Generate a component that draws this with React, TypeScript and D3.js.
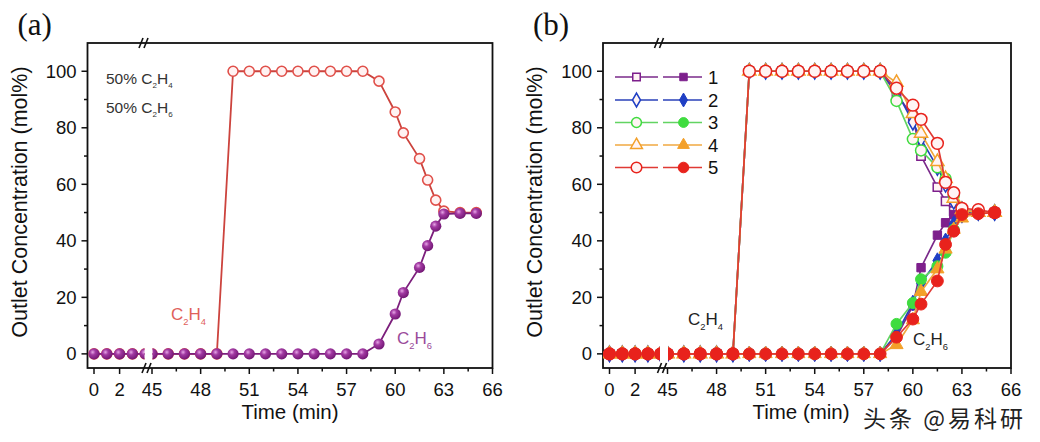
import * as d3 from "d3";

const W = 1040;
const H = 442;

// sampling times before breakthrough (min); the axis is broken between 4 and 45
const earlyTimes = [0, 1, 2, 3, 4, 45, 46, 47, 48, 49, 50, 51, 52, 53, 54, 55, 56, 57, 58];
const earlyC2H4 = [0, 0, 0, 0, 0, 0, 0, 0, 0, 0, 100, 100, 100, 100, 100, 100, 100, 100, 100];
const earlyC2H6 = [0, 0, 0, 0, 0, 0, 0, 0, 0, 0, 0, 0, 0, 0, 0, 0, 0, 0, 0];

// sampling times during breakthrough (min)
const tailTimes = [59, 60, 60.5, 61.5, 62, 62.5, 63, 64, 65];

// (a) single run, 50/50 C2H4/C2H6
const aTailC2H4 = [96.5, 85.6, 78.2, 69.1, 61.5, 54.4, 50.5, 50, 50];
const aTailC2H6 = [3.5, 14.1, 21.7, 30.6, 38.3, 45.2, 49.5, 49.7, 49.7];

// (b) five repeated cycles
const cycleNames = ["1", "2", "3", "4", "5"];
const cycleColors = ["#7d1f8c", "#1f3fc4", "#3fdc3f", "#f3a02a", "#e8231c"];
const cycleLineColors = ["#7a2a8a", "#2a40b8", "#62d462", "#f0a840", "#e03a34"];
const cycleTailC2H4 = [
  [92, 84, 70, 59, 54, 50.5, 50, 50, 50],
  [93, 82, 76, 66, 60, 54, 51, 50, 50],
  [89.5, 76, 72, 66, 62, 56, 51, 50, 50],
  [96, 85, 78, 68, 62, 55, 51, 50, 50],
  [94, 88, 83, 74.5, 60.7, 57, 51.5, 51, 50],
];
const cycleTailC2H6 = [
  [6, 17, 30.5, 42, 46.4, 49.3, 49.5, 50, 50],
  [7, 18, 25, 33, 40, 46, 49, 50, 50],
  [10.6, 18, 26.4, 31, 35.8, 44, 49, 50, 50],
  [3.2, 12, 22, 30, 37, 44, 48, 50, 50],
  [5.9, 12.3, 17.6, 25.8, 38.7, 43.4, 49.3, 49.6, 50],
];

const yMajor = [0, 20, 40, 60, 80, 100];
const yMinor = [10, 30, 50, 70, 90];
const xMajorLeft = [0, 2];
const xMajorRight = [45, 48, 51, 54, 57, 60, 63, 66];
const xMinorRight = [46.5, 49.5, 52.5, 55.5, 58.5, 61.5, 64.5];

const SANS = "Arial, 'Liberation Sans', Helvetica, sans-serif";
const SERIF = "'Times New Roman', 'Liberation Serif', serif";

type Pt = { t: number; v: number };

function join(times: number[], vals: number[]): Pt[] {
  return times.map((t, i) => ({ t, v: vals[i] }));
}

const TOP = 43;
const BOTTOM = 368;

function makeScales(left: number, right: number) {
  const xl = d3.scaleLinear().domain([0, 4]).range([left + 6.5, left + 6.5 + 4 * 12.8]);
  const xr = d3.scaleLinear().domain([45, 66]).range([left + 64.5, right]);
  const x = (t: number) => (t < 20 ? xl(t) : xr(t));
  const y = d3.scaleLinear().domain([-5, 110]).range([BOTTOM, TOP]);
  return { x, y };
}

function Chem({ x, y, n, fill, size }: { x: number; y: number; n: string; fill: string; size: number }) {
  const s = size * 0.55;
  const d = size * 0.3;
  return (
    <text x={x} y={y} fill={fill} fontSize={size} fontFamily={SANS}>
      C<tspan fontSize={s} dy={d}>2</tspan>
      <tspan dy={-d}>H</tspan>
      <tspan fontSize={s} dy={d}>{n}</tspan>
    </text>
  );
}

function Frame({ id, left, right, label, titleX }: { id: string; left: number; right: number; label: string; titleX: number }) {
  const { x, y } = makeScales(left, right);
  const brk = left + 59;
  const slash = (cx: number, cy: number) => (
    <g stroke="#111" strokeWidth={1.6}>
      <line x1={cx - 4.5} y1={cy + 5} x2={cx - 0.5} y2={cy - 5} />
      <line x1={cx + 0.5} y1={cy + 5} x2={cx + 4.5} y2={cy - 5} />
    </g>
  );
  return (
    <g>
      <text x={left - 70} y={35} fontSize={31} fontFamily={SERIF} fill="#111">
        {label}
      </text>
      <rect x={left} y={TOP} width={right - left} height={BOTTOM - TOP} fill="none" stroke="#111" strokeWidth={1.8} />
      {yMajor.map((v) => (
        <g key={`ym${v}`}>
          <line x1={left - 6} x2={left} y1={y(v)} y2={y(v)} stroke="#111" strokeWidth={1.5} />
          <text x={left - 11} y={y(v) + 6.5} textAnchor="end" fontSize={18.5} fontFamily={SANS} fill="#111">
            {v}
          </text>
        </g>
      ))}
      {yMinor.map((v) => (
        <line key={`yn${v}`} x1={left - 3.5} x2={left} y1={y(v)} y2={y(v)} stroke="#111" strokeWidth={1.5} />
      ))}
      {[...xMajorLeft, ...xMajorRight].map((t) => (
        <g key={`xm${t}`}>
          <line x1={x(t)} x2={x(t)} y1={BOTTOM} y2={BOTTOM + 6} stroke="#111" strokeWidth={1.5} />
          <text x={x(t)} y={396} textAnchor="middle" fontSize={18.5} fontFamily={SANS} fill="#111">
            {t}
          </text>
        </g>
      ))}
      {xMinorRight.map((t) => (
        <line key={`xn${t}`} x1={x(t)} x2={x(t)} y1={BOTTOM} y2={BOTTOM + 3.5} stroke="#111" strokeWidth={1.5} />
      ))}
      {slash(brk - 3, TOP)}
      {slash(brk, BOTTOM)}
      <text x={titleX} y={419} textAnchor="middle" fontSize={20.5} fontFamily={SANS} fill="#111">
        Time (min)
      </text>
      <text
        transform={`translate(${left - 61},${202}) rotate(-90)`}
        textAnchor="middle"
        fontSize={21.5}
        fontFamily={SANS}
        fill="#111"
      >
        Outlet Concentration (mol%)
      </text>
      <clipPath id={`clip-${id}`}>
        <rect x={left} y={TOP} width={57} height={BOTTOM - TOP} />
        <rect x={left + 65} y={TOP} width={right - left - 65} height={BOTTOM - TOP} />
      </clipPath>
    </g>
  );
}

function PanelA() {
  const left = 87.5;
  const right = 492.5;
  const { x, y } = makeScales(left, right);
  const line = d3
    .line<Pt>()
    .x((d) => x(d.t))
    .y((d) => y(d.v));
  const c2h4 = join([...earlyTimes, ...tailTimes], [...earlyC2H4, ...aTailC2H4]);
  const c2h6 = join([...earlyTimes, ...tailTimes], [...earlyC2H6, ...aTailC2H6]);
  return (
    <g>
      <Frame id="a" left={left} right={right} label="(a)" titleX={290} />
      <g clipPath="url(#clip-a)">
        <path d={line(c2h4) ?? ""} fill="none" stroke="#cc433d" strokeWidth={1.8} />
        {c2h4.map((d, i) => (
          <circle key={i} cx={x(d.t)} cy={y(d.v)} r={5} fill="#fff2f2" stroke="#e0504a" strokeWidth={1.6} />
        ))}
        <path d={line(c2h6) ?? ""} fill="none" stroke="#7c1f7c" strokeWidth={1.8} />
        {c2h6.map((d, i) => (
          <circle key={i} cx={x(d.t)} cy={y(d.v)} r={5.6} fill="url(#ball)" />
        ))}
      </g>
      <text x={106} y={84} fontSize={15.5} fontFamily={SANS} fill="#333">
        50% C<tspan fontSize={8} dy={4}>2</tspan>
        <tspan dy={-4}>H</tspan>
        <tspan fontSize={8} dy={4}>4</tspan>
      </text>
      <text x={106} y={113} fontSize={15.5} fontFamily={SANS} fill="#333">
        50% C<tspan fontSize={8} dy={4}>2</tspan>
        <tspan dy={-4}>H</tspan>
        <tspan fontSize={8} dy={4}>6</tspan>
      </text>
      <Chem x={171} y={320} n="4" fill="#e0605a" size={17} />
      <Chem x={397} y={344} n="6" fill="#9a4a9a" size={17} />
    </g>
  );
}

const symbols = [d3.symbolSquare, d3.symbolDiamond, d3.symbolCircle, d3.symbolTriangle, d3.symbolCircle];
const symbolSizes = [70, 70, 95, 75, 110];

function PanelB() {
  const left = 603;
  const right = 1011;
  const { x, y } = makeScales(left, right);
  const line = d3
    .line<Pt>()
    .x((d) => x(d.t))
    .y((d) => y(d.v));
  const times = [...earlyTimes, ...tailTimes];
  const legendRows = [77, 100, 122.5, 145, 167.5];
  return (
    <g>
      <Frame id="b" left={left} right={right} label="(b)" titleX={801} />
      <g clipPath="url(#clip-b)">
        {cycleNames.map((name, k) => {
          const sym = d3.symbol().type(symbols[k]).size(symbolSizes[k]);
          const open = join(times, [...earlyC2H4, ...cycleTailC2H4[k]]);
          const full = join(times, [...earlyC2H6, ...cycleTailC2H6[k]]);
          return (
            <g key={name} filter={k === 4 ? "url(#soft)" : undefined}>
              <path d={line(open) ?? ""} fill="none" stroke={cycleLineColors[k]} strokeWidth={1.7} />
              {open.map((d, i) => (
                <path
                  key={i}
                  d={sym() ?? ""}
                  transform={`translate(${x(d.t)},${y(d.v)})`}
                  fill="#fff4f4"
                  stroke={cycleColors[k]}
                  strokeWidth={1.5}
                />
              ))}
              <path d={line(full) ?? ""} fill="none" stroke={cycleLineColors[k]} strokeWidth={1.7} />
              {full.map((d, i) => (
                <path
                  key={i}
                  d={sym() ?? ""}
                  transform={`translate(${x(d.t)},${y(d.v)})`}
                  fill={cycleColors[k]}
                  stroke={cycleColors[k]}
                  strokeWidth={1}
                />
              ))}
            </g>
          );
        })}
      </g>
      {cycleNames.map((name, k) => {
        const sym = d3.symbol().type(symbols[k]).size(symbolSizes[k] * 0.8);
        const ly = legendRows[k];
        return (
          <g key={`lg${name}`}>
            <line x1={615} x2={658} y1={ly} y2={ly} stroke={cycleLineColors[k]} strokeWidth={1.7} />
            <path d={sym() ?? ""} transform={`translate(636.5,${ly})`} fill="#fff4f4" stroke={cycleColors[k]} strokeWidth={1.5} />
            <line x1={663} x2={702} y1={ly} y2={ly} stroke={cycleLineColors[k]} strokeWidth={1.7} />
            <path d={sym() ?? ""} transform={`translate(683.5,${ly})`} fill={cycleColors[k]} stroke={cycleColors[k]} strokeWidth={1} />
            <text x={708} y={ly + 6.5} fontSize={18.5} fontFamily={SANS} fill="#111">
              {name}
            </text>
          </g>
        );
      })}
      <Chem x={688} y={325} n="4" fill="#222" size={17} />
      <Chem x={913} y={345} n="6" fill="#222" size={17} />
    </g>
  );
}

export default function App() {
  return (
    <div style={{ position: "fixed", left: 0, top: 0 }}>
      <svg width={W} height={H} viewBox={`0 0 ${W} ${H}`} style={{ display: "block", background: "#fff" }}>
        <defs>
          <radialGradient id="ball" cx="0.38" cy="0.35" r="0.7">
            <stop offset="0" stopColor="#e6a6e6" />
            <stop offset="0.35" stopColor="#a23aa2" />
            <stop offset="1" stopColor="#6e1470" />
          </radialGradient>
          <filter id="soft" x="-5%" y="-5%" width="110%" height="110%">
            <feGaussianBlur stdDeviation="0.5" />
          </filter>
        </defs>
        <PanelA />
        <PanelB />
        <text
          x={863}
          y={427}
          fontSize={23}
          letterSpacing={3}
          fontFamily="'Noto Sans CJK SC', sans-serif"
          fill="#222"
          stroke="#fff"
          strokeWidth={3}
          paintOrder="stroke"
        >
          头条 @易科研
        </text>
      </svg>
    </div>
  );
}
